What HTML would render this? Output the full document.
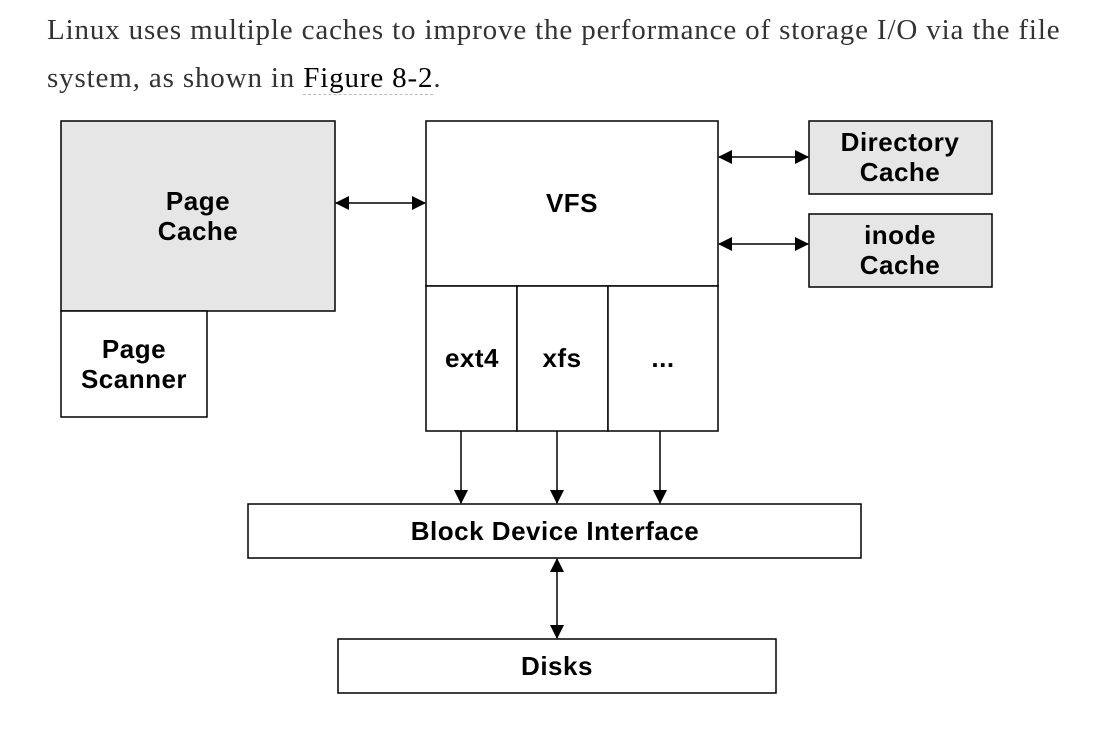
<!DOCTYPE html>
<html><head><style>
body{margin:0;background:#fff;width:1102px;height:731px;overflow:hidden;position:relative}
.t{position:absolute;left:47px;font-family:"Liberation Serif",serif;font-size:29px;letter-spacing:0.85px;color:#333;white-space:nowrap}
.f{color:#000;border-bottom:1px dashed #bbb}
svg{position:absolute;left:0;top:0}
svg text{font-family:"Liberation Sans",sans-serif;font-weight:bold;font-size:26px;letter-spacing:0.5px;text-anchor:middle;fill:#000}
</style></head><body>
<div class="t" style="top:14px">Linux uses multiple caches to improve the performance of storage I/O via the file</div>
<div class="t" style="top:62px">system, as shown in <span class="f">Figure 8-2</span>.</div>
<svg width="1102" height="731">
<defs><marker id="a" markerWidth="14" markerHeight="14" refX="13" refY="7" orient="auto-start-reverse" markerUnits="userSpaceOnUse"><path d="M0,0L14,7L0,14z" fill="#000"/></marker></defs>
<g stroke="#000" stroke-width="1.5">
<rect x="61" y="121" width="274" height="190" fill="#e6e6e6"/>
<rect x="61" y="311" width="146" height="106" fill="#fff"/>
<rect x="426" y="121" width="292" height="165" fill="#fff"/>
<rect x="426" y="286" width="91" height="145" fill="#fff"/>
<rect x="517" y="286" width="91" height="145" fill="#fff"/>
<rect x="608" y="286" width="110" height="145" fill="#fff"/>
<rect x="809" y="121" width="183" height="73" fill="#e6e6e6"/>
<rect x="809" y="214" width="183" height="73" fill="#e6e6e6"/>
<rect x="248" y="504" width="613" height="54" fill="#fff"/>
<rect x="338" y="639" width="438" height="54" fill="#fff"/>
<line x1="336" y1="203" x2="425" y2="203" marker-start="url(#a)" marker-end="url(#a)"/>
<line x1="719" y1="157" x2="808" y2="157" marker-start="url(#a)" marker-end="url(#a)"/>
<line x1="719" y1="244" x2="808" y2="244" marker-start="url(#a)" marker-end="url(#a)"/>
<line x1="461" y1="431" x2="461" y2="503" marker-end="url(#a)"/>
<line x1="557" y1="431" x2="557" y2="503" marker-end="url(#a)"/>
<line x1="660" y1="431" x2="660" y2="503" marker-end="url(#a)"/>
<line x1="557" y1="559" x2="557" y2="638" marker-start="url(#a)" marker-end="url(#a)"/>
</g>
<text x="198" y="210">Page</text><text x="198" y="240">Cache</text>
<text x="134" y="358">Page</text><text x="134" y="388">Scanner</text>
<text x="572" y="212">VFS</text>
<text x="472" y="367">ext4</text><text x="562" y="367">xfs</text><text x="663" y="367">...</text>
<text x="900" y="151">Directory</text><text x="900" y="181">Cache</text>
<text x="900" y="244">inode</text><text x="900" y="274">Cache</text>
<text x="555" y="540">Block Device Interface</text>
<text x="557" y="675">Disks</text>
</svg>
</body></html>
